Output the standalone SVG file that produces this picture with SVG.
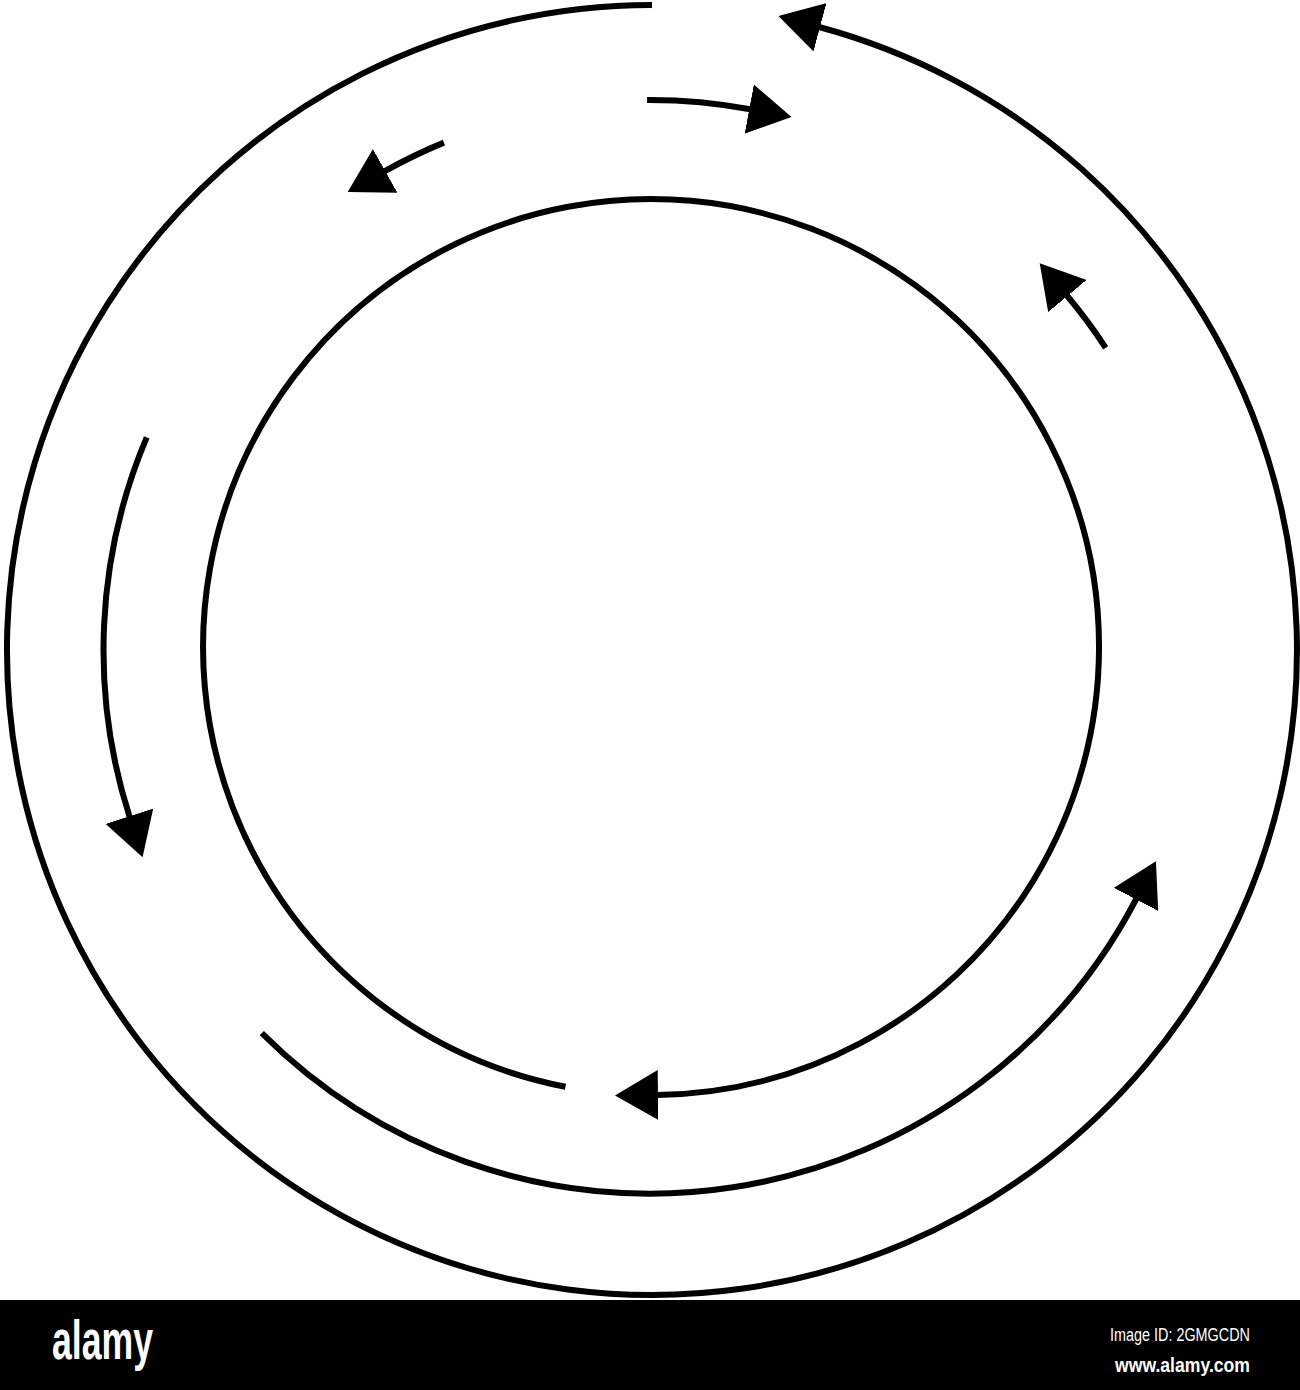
<svg xmlns="http://www.w3.org/2000/svg" width="1300" height="1390" viewBox="0 0 1300 1390">
<style>
.arc{fill:none;stroke:#000;stroke-width:6;stroke-linecap:butt}
.arr{marker-end:url(#head)}
.wm{fill:#fff;font-family:"Liberation Sans",Arial,sans-serif}
</style>
<defs>
<marker id="head" viewBox="0 0 43 50" markerUnits="userSpaceOnUse" markerWidth="43" markerHeight="50" refX="1" refY="25" orient="auto">
<path d="M0,0 L43,25 L0,50 Z" fill="#000"/>
</marker>
</defs>
<rect width="1300" height="1390" fill="#fff"/>
<g id="connectors">
<path id="outer" class="arc arr" d="M652,5 A645,645 0 1 0 819,27"/>
<path id="middle" class="arc arr" d="M261.8,1033.2 A549,549 0 0 0 1136.5,898.5"/>
<path id="inner" class="arc arr" d="M565.5,1086.8 A448,448 0 1 1 657,1095"/>
<path id="small-top" class="arc arr" d="M647.1,100 A545,545 0 0 1 750.2,109.3"/>
<path id="small-topleft" class="arc arr" d="M443.9,142.6 A543,543 0 0 0 384.3,171.4"/>
<path id="small-right" class="arc arr" d="M1105.7,347.9 A544,544 0 0 0 1066.7,295.3"/>
<path id="small-left" class="arc arr" d="M146.7,437.3 A546,546 0 0 0 129.7,817.2"/>
</g>
<g id="watermark">
<rect x="0" y="1300" width="1300" height="90" fill="#000"/>
<text class="wm" x="52" y="1359" font-size="56" font-weight="bold" textLength="101" lengthAdjust="spacingAndGlyphs">alamy</text>
<text class="wm" x="1110" y="1341" font-size="18" fill="#ddd" textLength="140" lengthAdjust="spacingAndGlyphs">Image ID: 2GMGCDN</text>
<text class="wm" x="1115" y="1372" font-size="21" font-weight="bold" textLength="135" lengthAdjust="spacingAndGlyphs">www.alamy.com</text>
</g>
</svg>
